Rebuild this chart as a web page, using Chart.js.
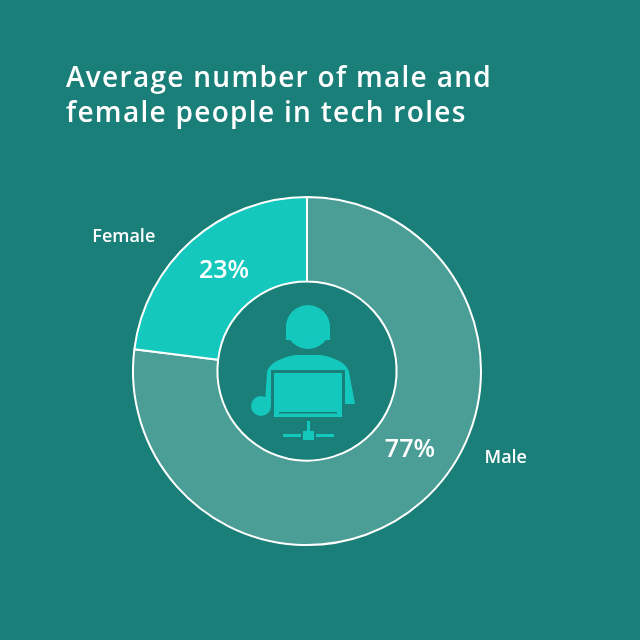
<!DOCTYPE html>
<html>
<head>
<meta charset="utf-8">
<script src="https://cdn.jsdelivr.net/npm/chart.js@4"></script>
<style>
  html, body { margin: 0; padding: 0; background: #1a7f78; }
  #wrap { position: relative; width: 640px; height: 640px; }
  #title { position: absolute; left: 66px; top: 59px; color: #fff; font-family: "Open Sans", sans-serif; font-size: 28px; font-weight: 600; line-height: 35px; letter-spacing: 1.3px; margin: 0; }
</style>
</head>
<body>
<div id="wrap">
  <h1 id="title">Average number of male and<br>female people in tech roles</h1>
  <canvas id="genderChart" width="640" height="640"></canvas>
</div>
<script>
const categories = ['Male', 'Female'];
const shares = [77, 23];
const colors = ['#4a9e96', '#14c8be'];
// where along each arc (0..1) and at what radius the texts sit
const pctPos = [0.46, 0.52];
const namePos = [0.41, 0.35];
const nameRadius = [217, 227];

const labelPlugin = {
  id: 'labels',
  afterDatasetsDraw(chart) {
    const ctx = chart.ctx;
    const arcs = chart.getDatasetMeta(0).data;
    ctx.save();
    ctx.fillStyle = '#fff';
    ctx.textAlign = 'center';
    ctx.textBaseline = 'middle';
    arcs.forEach((arc, i) => {
      const a1 = arc.startAngle + (arc.endAngle - arc.startAngle) * pctPos[i];
      const r1 = (arc.innerRadius + arc.outerRadius) / 2 - 2;
      ctx.font = '600 25px "Open Sans", sans-serif';
      ctx.fillText(shares[i] + '%', arc.x + Math.cos(a1) * r1, arc.y + Math.sin(a1) * r1);
      const a2 = arc.startAngle + (arc.endAngle - arc.startAngle) * namePos[i];
      ctx.font = '600 18px "Open Sans", sans-serif';
      ctx.fillText(categories[i], arc.x + Math.cos(a2) * nameRadius[i], arc.y + Math.sin(a2) * nameRadius[i]);
    });
    // simple support-agent icon in the hole
    const c = arcs[0];
    const x = c.x, y = c.y + 3;
    ctx.fillStyle = '#14c8be';
    ctx.strokeStyle = '#14c8be';
    ctx.beginPath(); ctx.arc(x + 1, y - 47, 22, 0, Math.PI * 2); ctx.fill();
    ctx.fillRect(x - 21, y - 50, 6, 16); ctx.fillRect(x + 17, y - 50, 6, 16);
    ctx.lineWidth = 2;
    ctx.beginPath(); ctx.moveTo(x - 3, y - 31); ctx.lineTo(x + 14, y - 33); ctx.stroke();
    ctx.beginPath();
    ctx.moveTo(x - 42, y + 30); ctx.lineTo(x - 40, y - 2);
    ctx.quadraticCurveTo(x - 37, y - 14, x - 12, y - 19);
    ctx.lineTo(x + 14, y - 19);
    ctx.quadraticCurveTo(x + 39, y - 14, x + 42, y - 2);
    ctx.lineTo(x + 48, y + 30); ctx.closePath(); ctx.fill();
    ctx.beginPath(); ctx.arc(x - 46, y + 32, 10, 0, Math.PI * 2); ctx.fill();
    ctx.fillStyle = '#1a7f78';
    ctx.fillRect(x - 36, y - 4, 74, 50);
    ctx.fillStyle = '#14c8be';
    ctx.fillRect(x - 33, y - 1, 68, 44);
    ctx.fillStyle = '#1a7f78';
    ctx.fillRect(x - 28, y + 38, 58, 1.5);
    ctx.fillStyle = '#14c8be';
    ctx.fillRect(x, y + 47, 3, 10);
    ctx.fillRect(x - 4, y + 57, 11, 9);
    ctx.fillRect(x - 24, y + 60, 18, 3);
    ctx.fillRect(x + 9, y + 60, 18, 3);
    ctx.restore();
  }
};

new Chart(document.getElementById('genderChart'), {
  type: 'doughnut',
  data: {
    labels: categories,
    datasets: [{
      data: shares,
      backgroundColor: colors,
      borderColor: '#ffffff',
      borderWidth: 2
    }]
  },
  options: {
    responsive: false,
    animation: false,
    cutout: '51.5%',
    layout: { padding: { left: 132, right: 158, top: 196, bottom: 94 } },
    plugins: { legend: { display: false }, tooltip: { enabled: false } }
  },
  plugins: [labelPlugin]
});
</script>
</body>
</html>
